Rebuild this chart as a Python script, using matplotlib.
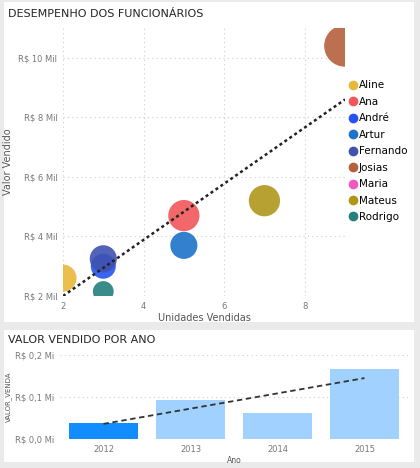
import matplotlib
matplotlib.use("Agg")
import matplotlib.pyplot as plt
from matplotlib.patches import Rectangle
from matplotlib.ticker import FuncFormatter

W, H = 420, 468

# scatter data
names = ["Aline", "Ana", "André", "Artur", "Fernando", "Josias", "Maria", "Mateus", "Rodrigo"]
colors = ["#E8B83B", "#F0565A", "#2653F0", "#1C73C9", "#4052B0", "#B5603D", "#EE5AC0", "#B0971C", "#267F7E"]
units = [2, 5, 3, 5, 3, 9, None, 7, 3]
value = [2.6, 4.7, 3.0, 3.7, 3.25, 10.4, None, 5.2, 2.15]  # R$ Mil
radius = [13, 15, 12, 13, 13, 20, 0, 15, 10]  # px
trend_x = [2, 9]
trend_y = [2.0, 8.6]

# bar data
years = ["2012", "2013", "2014", "2015"]
sales = [0.037, 0.093, 0.063, 0.167]  # R$ Mi
bar_colors = ["#118DFF", "#A0D1FF", "#A0D1FF", "#A0D1FF"]
bar_trend = [0.036, 0.145]

fig = plt.figure(figsize=(W / 100, H / 100), dpi=100)
fig.patch.set_facecolor("#EAEAEA")
fig.add_artist(Rectangle((4 / W, 1 - 322 / H), 410 / W, 320 / H, transform=fig.transFigure,
                         facecolor="white", edgecolor="none", zorder=0))
fig.add_artist(Rectangle((4 / W, 1 - 462 / H), 410 / W, 132 / H, transform=fig.transFigure,
                         facecolor="white", edgecolor="none", zorder=0))

tick_col = "#777777"
# top chart
ax = fig.add_axes([63 / W, 1 - 296 / H, 282 / W, 268 / H])
ax.set_xlim(2, 9)
ax.set_ylim(2, 11.0)
for n, c, x, y, r in zip(names, colors, units, value, radius):
    if x is None:
        continue
    ax.scatter([x], [y], s=(r * 0.75 * 2) ** 2, color=c, alpha=0.9, edgecolors="none", zorder=3)
ax.plot(trend_x, trend_y, color="#222222", lw=1.8, ls=(0, (1.2, 1.2)), zorder=4)
ax.set_xticks([2, 4, 6, 8])
ax.set_yticks([2, 4, 6, 8, 10])
ax.yaxis.set_major_formatter(FuncFormatter(lambda v, p: f"R$ {v:.0f} Mil"))
ax.grid(color="#CCCCCC", ls=(0, (1, 3)), lw=0.8)
ax.set_axisbelow(True)
for s in ax.spines.values():
    s.set_visible(False)
ax.tick_params(length=0, labelsize=6, colors=tick_col, pad=4)
ax.set_xlabel("Unidades Vendidas", fontsize=7, color="#555555", labelpad=2)
ax.set_ylabel("Valor Vendido", fontsize=7, color="#555555")
ax.yaxis.set_label_coords(-50 / 282, 0.5)
handles = [plt.Line2D([], [], marker="o", ls="", color=c, markersize=6) for c in colors]
ax.legend(handles, names, loc="upper left", bbox_to_anchor=(1.0, 0.82), frameon=False,
          fontsize=7.5, handletextpad=0.1, labelspacing=0.62, borderaxespad=0, handlelength=0.8)
fig.text(8 / W, 1 - 14 / H, "DESEMPENHO DOS FUNCIONÁRIOS", fontsize=8, color="#252423", va="center")

# bottom chart
bx = fig.add_axes([60 / W, 1 - 439 / H, 348 / W, 84 / H])
xs = range(len(years))
bx.bar(xs, sales, width=0.8, color=bar_colors, zorder=3)
bx.plot([0, 3], bar_trend, color="#333333", lw=1.3, ls=(0, (3, 2)), zorder=4)
bx.set_xlim(-0.5, 3.5)
bx.set_ylim(0, 0.2)
bx.set_xticks(list(xs))
bx.set_xticklabels(years)
bx.set_yticks([0, 0.1, 0.2])
bx.yaxis.set_major_formatter(FuncFormatter(lambda v, p: f"R$ {v:.1f} Mi".replace(".", ",")))
bx.grid(axis="y", color="#CCCCCC", ls=(0, (1, 3)), lw=0.8)
bx.set_axisbelow(True)
for s in bx.spines.values():
    s.set_visible(False)
bx.tick_params(length=0, labelsize=6, colors=tick_col, pad=4)
bx.set_xlabel("Ano", fontsize=5.5, color="#555555", labelpad=2)
bx.set_ylabel("VALOR_VENDA", fontsize=5, color="#555555")
bx.yaxis.set_label_coords(-48 / 348, 0.5)
fig.text(8 / W, 1 - 340 / H, "VALOR VENDIDO POR ANO", fontsize=8, color="#252423", va="center")

fig.savefig("out.png", dpi=100)
